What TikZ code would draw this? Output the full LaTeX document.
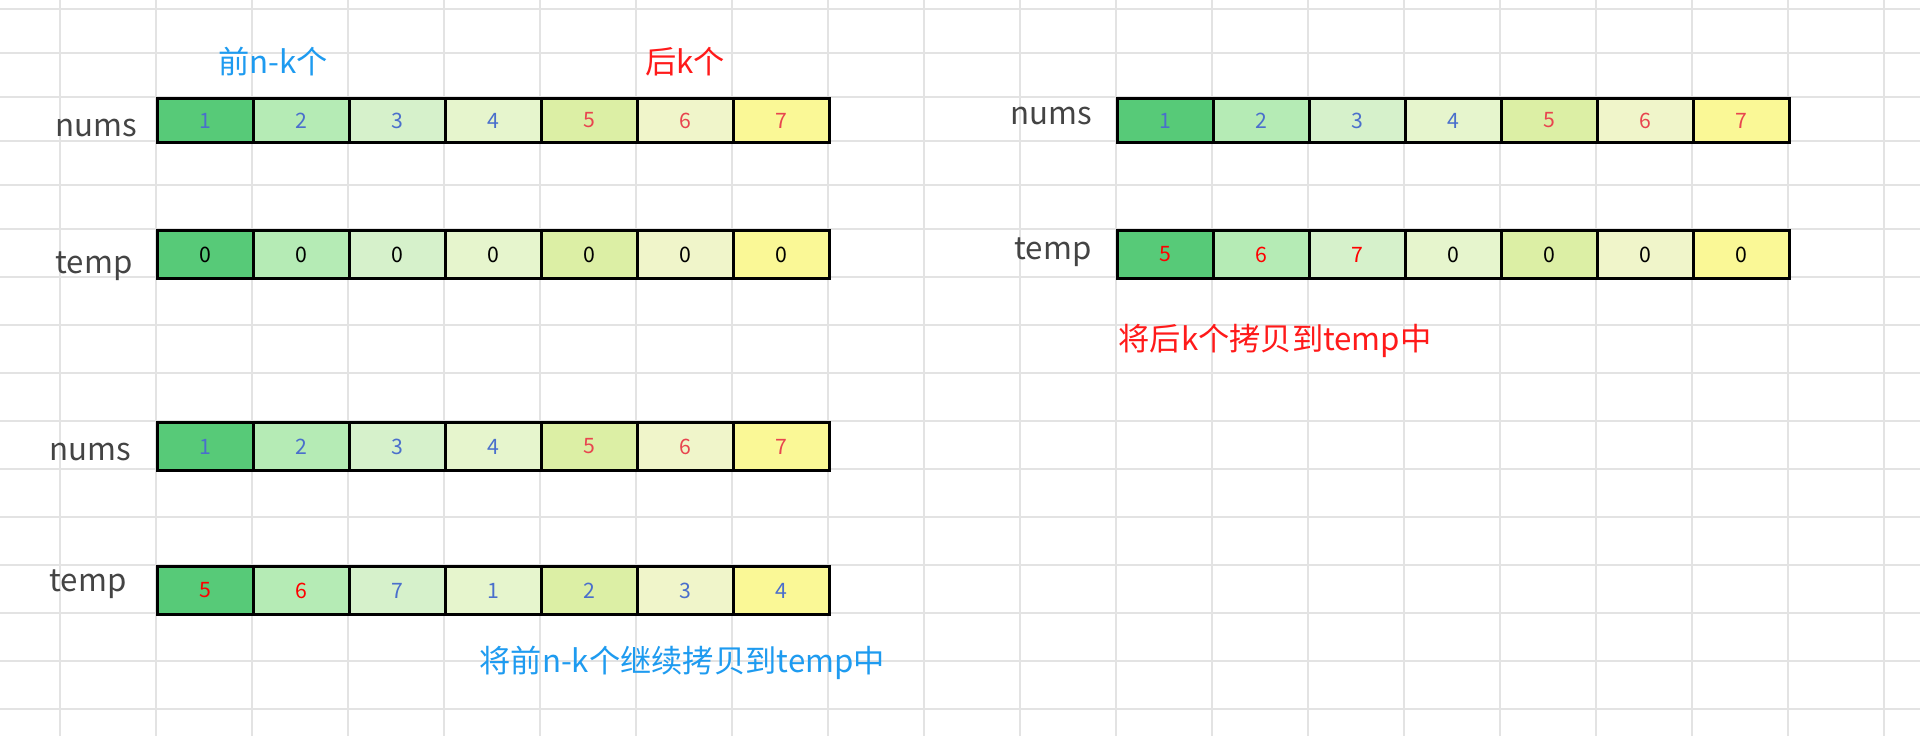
\documentclass[tikz,border=0pt]{standalone}
\usepackage{fontspec}
\setmainfont{Noto Sans CJK SC}
\definecolor{gridc}{HTML}{E3E3E3}
\definecolor{labc}{HTML}{444444}
\definecolor{bluet}{HTML}{1E9BF0}
\definecolor{redt}{HTML}{FF1A1A}
\definecolor{dblue}{HTML}{4A6FCC}
\definecolor{dred}{HTML}{E8454F}
\definecolor{dbright}{HTML}{FF0000}
\definecolor{c1}{HTML}{57CA78}
\definecolor{c2}{HTML}{B5EBB5}
\definecolor{c3}{HTML}{D6F1CB}
\definecolor{c4}{HTML}{E6F5CD}
\definecolor{c5}{HTML}{DCEFA5}
\definecolor{c6}{HTML}{F0F5CA}
\definecolor{c7}{HTML}{FAF896}
\tikzset{
  cellbox/.style={draw=black,line width=1.2pt,minimum width=38.4pt,minimum height=#1,inner sep=0pt,anchor=north west,font=\fontsize{8.5pt}{9pt}\selectfont},
  lab/.style={text=labc,font=\fontsize{12.5pt}{14pt}\selectfont,inner sep=0pt},
  note/.style={font=\fontsize{12.5pt}{14pt}\selectfont,inner sep=0pt}
}
\newcommand{\arow}[7]{% name, x, y, h, then list
}
\begin{document}
\begin{tikzpicture}[x=0.4pt,y=-0.4pt]
\useasboundingbox (0,0) rectangle (1920,736);
\fill[white] (0,0) rectangle (1920,736);
\foreach \x in {60,156,...,1884} \draw[gridc,line width=0.5pt] (\x,0) -- (\x,736);
\foreach \y in {9,53,97,141,185,229,277,325,373,421,469,517,565,613,661,709} \draw[gridc,line width=0.5pt] (0,\y) -- (1920,\y);
% row macro via foreach
% top-left nums
\foreach \i/\t/\c in {1/1/dblue,2/2/dblue,3/3/dblue,4/4/dblue,5/5/dred,6/6/dred,7/7/dred}
  \node[cellbox=17.6pt,fill=c\i,text=\c] (a\i) at ({156+96*(\i-1)},97) {\t};
\foreach \i/\t/\c in {1/0/black,2/0/black,3/0/black,4/0/black,5/0/black,6/0/black,7/0/black}
  \node[cellbox=19.2pt,fill=c\i,text=\c] (b\i) at ({156+96*(\i-1)},229) {\t};
\foreach \i/\t/\c in {1/1/dblue,2/2/dblue,3/3/dblue,4/4/dblue,5/5/dred,6/6/dred,7/7/dred}
  \node[cellbox=17.6pt,fill=c\i,text=\c] (c\i) at ({1116+96*(\i-1)},97) {\t};
\foreach \i/\t/\c in {1/5/dbright,2/6/dbright,3/7/dbright,4/0/black,5/0/black,6/0/black,7/0/black}
  \node[cellbox=19.2pt,fill=c\i,text=\c] (d\i) at ({1116+96*(\i-1)},229) {\t};
\foreach \i/\t/\c in {1/1/dblue,2/2/dblue,3/3/dblue,4/4/dblue,5/5/dred,6/6/dred,7/7/dred}
  \node[cellbox=19.2pt,fill=c\i,text=\c] (e\i) at ({156+96*(\i-1)},421) {\t};
\foreach \i/\t/\c in {1/5/dbright,2/6/dbright,3/7/dblue,4/1/dblue,5/2/dblue,6/3/dblue,7/4/dblue}
  \node[cellbox=19.2pt,fill=c\i,text=\c] (f\i) at ({156+96*(\i-1)},565) {\t};
% labels
\node[lab] (l1) at (96,128) {nums};
\node[lab] (l2) at (94,266) {temp};
\node[lab] (l3) at (1051,116) {nums};
\node[lab] (l4) at (1053,252) {temp};
\node[lab] (l5) at (90,452) {nums};
\node[lab] (l6) at (88,584) {temp};
\node[note,text=bluet] (t1) at (273,62) {前n-k个};
\node[note,text=redt] (t2) at (685,62) {后k个};
\node[note,text=redt,anchor=west] (t3) at (1118,341) {将后k个拷贝到temp中};
\node[note,text=bluet,anchor=west] (t4) at (479,663) {将前n-k个继续拷贝到temp中};
\end{tikzpicture}
\end{document}
